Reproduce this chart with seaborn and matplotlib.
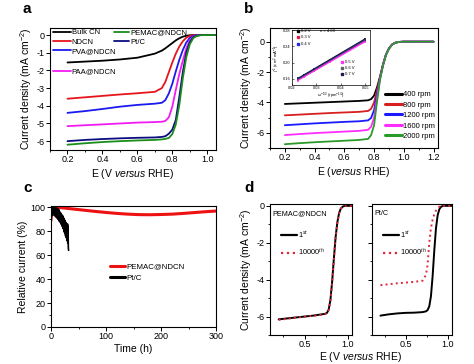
import matplotlib
matplotlib.use("Agg")
import matplotlib.pyplot as plt
from matplotlib.lines import Line2D
from matplotlib.legend import Legend
from matplotlib.ticker import MultipleLocator
import seaborn as sns

# ---------------- data ----------------
# panel a: LSV of catalysts
E_A = [0.20, 0.30, 0.40, 0.50, 0.60, 0.70, 0.74, 0.76, 0.78, 0.80, 0.82, 0.84, 0.86, 0.88, 0.90, 0.92, 0.94, 0.96, 0.98, 1.00, 1.05]
BULK_CN = [-1.55, -1.50, -1.45, -1.38, -1.28, -1.05, -0.88, -0.75, -0.60, -0.45, -0.30, -0.18, -0.09, -0.04, -0.01, 0.00, 0.00, 0.00, 0.00, 0.00, 0.00]
NDCN = [-3.60, -3.52, -3.44, -3.36, -3.29, -3.21, -3.00, -2.65, -2.10, -1.55, -1.05, -0.65, -0.35, -0.15, -0.05, -0.01, 0.00, 0.00, 0.00, 0.00, 0.00]
PVA_NDCN = [-4.40, -4.30, -4.18, -4.05, -3.95, -3.88, -3.83, -3.68, -3.30, -2.75, -2.05, -1.40, -0.85, -0.42, -0.16, -0.05, -0.01, 0.00, 0.00, 0.00, 0.00]
PAA_NDCN = [-5.15, -5.10, -5.05, -5.00, -4.95, -4.92, -4.90, -4.86, -4.65, -4.05, -3.10, -2.20, -1.45, -0.75, -0.30, -0.09, -0.02, 0.00, 0.00, 0.00, 0.00]
PT_C = [-6.00, -5.93, -5.88, -5.84, -5.81, -5.79, -5.76, -5.72, -5.58, -5.35, -4.80, -3.50, -2.10, -1.00, -0.40, -0.12, -0.03, 0.00, 0.00, 0.00, 0.00]
PEMAC_NDCN = [-6.20, -6.12, -6.05, -6.00, -5.96, -5.93, -5.90, -5.87, -5.82, -5.60, -5.05, -3.95, -2.45, -1.25, -0.52, -0.17, -0.05, -0.01, 0.00, 0.00, 0.00]
LABELS_A = ["Bulk CN", "NDCN", "PVA@NDCN", "PAA@NDCN", "Pt/C", "PEMAC@NDCN"]

# panel b: rotating speeds
E_B = [0.20, 0.30, 0.40, 0.50, 0.60, 0.70, 0.76, 0.78, 0.80, 0.82, 0.84, 0.86, 0.88, 0.90, 0.92, 0.94, 0.96, 0.98, 1.00, 1.10, 1.20]
RPM_400 = [-4.10, -4.06, -4.02, -3.98, -3.94, -3.90, -3.86, -3.78, -3.55, -3.00, -2.30, -1.50, -0.85, -0.45, -0.20, -0.08, -0.03, -0.01, 0.00, 0.00, 0.00]
RPM_800 = [-4.85, -4.80, -4.75, -4.70, -4.66, -4.62, -4.56, -4.42, -4.00, -3.20, -2.35, -1.52, -0.85, -0.45, -0.20, -0.08, -0.03, -0.01, 0.00, 0.00, 0.00]
RPM_1200 = [-5.50, -5.44, -5.38, -5.33, -5.28, -5.24, -5.18, -5.02, -4.50, -3.45, -2.40, -1.54, -0.86, -0.45, -0.20, -0.08, -0.03, -0.01, 0.00, 0.00, 0.00]
RPM_1600 = [-6.15, -6.08, -6.02, -5.97, -5.92, -5.87, -5.80, -5.60, -5.00, -3.70, -2.45, -1.56, -0.86, -0.46, -0.20, -0.08, -0.03, -0.01, 0.00, 0.00, 0.00]
RPM_2000 = [-6.75, -6.68, -6.62, -6.57, -6.52, -6.47, -6.40, -6.15, -5.50, -3.95, -2.50, -1.58, -0.87, -0.46, -0.21, -0.08, -0.03, -0.01, 0.00, 0.00, 0.00]
LABELS_B = ["400 rpm", "800 rpm", "1200 rpm", "1600 rpm", "2000 rpm"]

# panel b inset: K-L plots
W_INV = [0.0224, 0.0250, 0.0289, 0.0354, 0.0500]
KL_02 = [0.158, 0.167, 0.181, 0.204, 0.254]
KL_03 = [0.157, 0.166, 0.180, 0.203, 0.253]
KL_04 = [0.159, 0.168, 0.182, 0.205, 0.256]
KL_05 = [0.156, 0.165, 0.179, 0.202, 0.251]
KL_06 = [0.160, 0.169, 0.183, 0.206, 0.257]
KL_07 = [0.161, 0.170, 0.184, 0.207, 0.258]
KL_LABELS = ["0.2 V", "0.3 V", "0.4 V", "0.5 V", "0.6 V", "0.7 V"]
N_TEXT = "n = 4.09"

# panel c: stability
PEMAC_TIME = [0, 1, 2, 3, 5, 10, 20, 40, 60, 80, 100, 120, 140, 160, 180, 200, 220, 240, 260, 280, 300]
PEMAC_CURRENT = [89, 95, 98, 99.5, 100, 100, 99.5, 98.5, 97.5, 96.5, 95.6, 94.8, 94.2, 93.8, 93.7, 93.9, 94.2, 94.8, 95.5, 96.2, 96.8]
PT_TIME = [0, 0.5, 1, 1.5, 2, 2.5, 3, 3.5, 4, 4.5, 5, 5.5, 6, 6.5, 7, 7.5, 8, 8.5, 9, 9.5,
           10, 10.5, 11, 11.5, 12, 12.5, 13, 13.5, 14, 14.5, 15, 15.5, 16, 16.5, 17, 17.5, 18, 18.5, 19, 19.5,
           20, 20.5, 21, 21.5, 22, 22.5, 23, 23.5, 24, 24.5, 25, 25.5, 26, 26.5, 27, 27.5, 28, 28.5, 29, 29.5,
           30, 30.5, 31, 31.5, 32]
PT_CURRENT = [88, 96, 100, 95, 100, 93, 100, 96, 100, 94, 100, 95, 100, 93, 99, 94, 100, 92, 99, 93,
              99, 91, 98, 92, 99, 90, 97, 91, 98, 89, 97, 88, 96, 89, 95, 87, 95, 86, 94, 85,
              93, 84, 93, 83, 92, 82, 91, 80, 90, 79, 89, 78, 88, 76, 87, 75, 86, 74, 85, 72,
              86, 70, 84, 66, 64]
LABELS_C = ["PEMAC@NDCN", "Pt/C"]

# panel d: durability
E_D = [0.20, 0.30, 0.40, 0.50, 0.60, 0.70, 0.74, 0.76, 0.78, 0.80, 0.82, 0.84, 0.86, 0.88, 0.90, 0.92, 0.94, 0.96, 0.98, 1.00, 1.05]
PEMAC_1ST = [-6.15, -6.10, -6.05, -6.00, -5.95, -5.88, -5.85, -5.80, -5.62, -5.10, -4.10, -2.85, -1.70, -0.90, -0.40, -0.15, -0.05, -0.01, 0.00, 0.00, 0.00]
PEMAC_10000TH = [-6.18, -6.12, -6.06, -6.01, -5.96, -5.90, -5.86, -5.82, -5.66, -5.18, -4.18, -2.92, -1.75, -0.93, -0.42, -0.16, -0.05, -0.01, 0.00, 0.00, 0.00]
PTC_1ST = [-5.95, -5.88, -5.83, -5.80, -5.79, -5.76, -5.72, -5.65, -5.45, -4.90, -3.80, -2.40, -1.20, -0.50, -0.18, -0.05, -0.01, 0.00, 0.00, 0.00, 0.00]
PTC_10000TH = [-4.30, -4.25, -4.20, -4.16, -4.12, -4.06, -3.75, -3.20, -2.00, -1.20, -0.75, -0.45, -0.25, -0.12, -0.05, -0.01, 0.00, 0.00, 0.00, 0.00, 0.00]
CYCLE_LABELS = ["1$^{st}$", "10000$^{th}$"]

# ---------------- style ----------------
sns.set_style("ticks", {"axes.edgecolor": "black", "xtick.color": "black", "ytick.color": "black",
                        "text.color": "black", "axes.labelcolor": "black"})
plt.rcParams["font.family"] = ["Liberation Sans", "DejaVu Sans"]
plt.rcParams["mathtext.fontset"] = "custom"
plt.rcParams["mathtext.rm"] = "Liberation Sans"
plt.rcParams["mathtext.it"] = "Liberation Sans:italic"
plt.rcParams["mathtext.bf"] = "Liberation Sans:bold"
plt.rcParams["axes.unicode_minus"] = False

W, H = 474, 364
fig = plt.figure(figsize=(W / 100, H / 100), dpi=100)


def ax_px(l, t, r, b):
    return fig.add_axes([l / W, 1 - b / H, (r - l) / W, (b - t) / H])


def style(ax, fs=6.5):
    for s in ax.spines.values():
        s.set_linewidth(0.8)
        s.set_color("black")
    ax.tick_params(which="major", direction="out", length=2.6, width=0.7, labelsize=fs, pad=1.2)
    ax.tick_params(which="minor", direction="out", length=1.6, width=0.6)


def leg(ax, handles, labels, x, y, fs=5.5, spacing=0.25, hl=2.3, pad=0.15, hh=0.7):
    lg = Legend(ax, handles, labels, loc="upper left", bbox_to_anchor=(x / W, 1 - y / H),
                bbox_transform=fig.transFigure, frameon=False, borderpad=0, borderaxespad=0,
                handletextpad=pad, labelspacing=spacing, handlelength=hl, handleheight=hh,
                fontsize=fs)
    ax.add_artist(lg)
    return lg


XLAB = "E (V $\\mathit{versus}$ RHE)"
YLAB = "Current density (mA cm$^{-2}$)"

# ---------------- panel a ----------------
axa = ax_px(50, 28, 216, 150)
style(axa)
cols_a = ["black", "#e8141c", "#1a1aee", "#f21cf2", "#0c0c80", "#1c8c1c"]
series_a = [BULK_CN, NDCN, PVA_NDCN, PAA_NDCN, PT_C, PEMAC_NDCN]
hs_a = []
for ys, c, lab in zip(series_a, cols_a, LABELS_A):
    sns.lineplot(x=E_A, y=ys, ax=axa, color=c, lw=1.3, legend=False, estimator=None)
    hs_a.append(Line2D([], [], color=c, lw=1.3))
axa.set_xlim(0.1, 1.05)
axa.set_ylim(-6.5, 0.4)
axa.xaxis.set_major_locator(MultipleLocator(0.2))
axa.xaxis.set_minor_locator(MultipleLocator(0.1))
axa.yaxis.set_major_locator(MultipleLocator(1))
axa.set_xlabel(XLAB, fontsize=7.5, labelpad=2)
axa.set_ylabel(YLAB, fontsize=7.5, labelpad=2)
leg(axa, [hs_a[0], hs_a[1], hs_a[2]], LABELS_A[:3], 53, 29)
leg(axa, [hs_a[5], hs_a[4]], [LABELS_A[5], LABELS_A[4]], 114, 29, hl=2.0)
leg(axa, [hs_a[3]], [LABELS_A[3]], 53, 68)

# ---------------- panel b ----------------
axb = ax_px(270, 28, 438, 148)
style(axb)
cols_b = ["black", "#d81e1e", "#1a1aff", "#ff2dff", "#2a9a2a"]
series_b = [RPM_400, RPM_800, RPM_1200, RPM_1600, RPM_2000]
hs_b = []
for ys, c in zip(series_b, cols_b):
    sns.lineplot(x=E_B, y=ys, ax=axb, color=c, lw=1.3, legend=False, estimator=None)
    hs_b.append(Line2D([], [], color=c, lw=2.2))
axb.set_xlim(0.1, 1.23)
axb.set_ylim(-7, 0.9)
axb.xaxis.set_major_locator(MultipleLocator(0.2))
axb.xaxis.set_minor_locator(MultipleLocator(0.1))
axb.yaxis.set_major_locator(MultipleLocator(2))
axb.yaxis.set_minor_locator(MultipleLocator(1))
axb.set_xlabel("E ($\\mathit{versus}$ RHE)", fontsize=7.5, labelpad=2)
axb.set_ylabel(YLAB, fontsize=7.5, labelpad=2)
leg(axb, hs_b, LABELS_B, 385, 91, spacing=0.4, hl=2.2, pad=0.1)

# inset
axi = ax_px(292, 30, 370, 85)
for s in axi.spines.values():
    s.set_linewidth(0.5)
axi.tick_params(which="major", direction="in", length=1.2, width=0.4, labelsize=2.8, pad=1)
kl_series = [KL_02, KL_03, KL_04, KL_05, KL_06, KL_07]
kl_cols = ["black", "#e0204a", "#2a2ae0", "#ff33ff", "#55665a", "#1a1a50"]
hs_i = []
for ys, c in zip(kl_series, kl_cols):
    sns.regplot(x=W_INV, y=ys, ax=axi, ci=None, marker="s", color=c,
                scatter_kws={"s": 2.5, "linewidths": 0}, line_kws={"lw": 0.9})
    hs_i.append(Line2D([], [], color=c, marker="s", ms=1.8, lw=0))
axi.set_xlim(0.02, 0.052)
axi.set_ylim(0.145, 0.28)
axi.set_xticks([0.02, 0.03, 0.04, 0.05])
axi.set_yticks([0.16, 0.20, 0.24, 0.28])
axi.set_xlabel("$\\omega^{-1/2}$ (rpm$^{-1/2}$)", fontsize=3, labelpad=0.5)
axi.set_ylabel("j$^{-1}$ (cm$^{2}$ mA$^{-1}$)", fontsize=3, labelpad=0.5)
for hs, labs, x, y, sp in [(hs_i[:3], KL_LABELS[:3], 297, 29, 0.6), (hs_i[3:], KL_LABELS[3:], 341, 60, 0.5)]:
    li = Legend(axi, hs, labs, loc="upper left", bbox_to_anchor=(x / W, 1 - y / H),
                bbox_transform=fig.transFigure, frameon=False, borderpad=0, borderaxespad=0,
                handletextpad=0.3, labelspacing=sp, handlelength=0.6, fontsize=3)
    axi.add_artist(li)
fig.text(320 / W, 1 - 31 / H, N_TEXT, fontsize=3, va="center", ha="left")

# ---------------- panel c ----------------
axc = ax_px(51, 206, 216, 327)
style(axc)
sns.lineplot(x=PEMAC_TIME, y=PEMAC_CURRENT, ax=axc, color="#ee1111", lw=2.2, legend=False, estimator=None)
sns.lineplot(x=PT_TIME, y=PT_CURRENT, ax=axc, color="black", lw=1.2, legend=False, estimator=None)
axc.set_xlim(0, 300)
axc.set_ylim(0, 101)
axc.xaxis.set_major_locator(MultipleLocator(100))
axc.xaxis.set_minor_locator(MultipleLocator(50))
axc.yaxis.set_major_locator(MultipleLocator(20))
axc.yaxis.set_minor_locator(MultipleLocator(10))
axc.set_xlabel("Time (h)", fontsize=7.5, labelpad=2)
axc.set_ylabel("Relative current (%)", fontsize=7.5, labelpad=2)
leg(axc, [Line2D([], [], color="#ee1111", lw=2.2), Line2D([], [], color="black", lw=2.2)],
    LABELS_C, 110, 263, fs=5.7, spacing=0.45, hl=1.9, pad=0.15)

# ---------------- panel d ----------------
axd1 = ax_px(270, 204, 352, 335)
axd2 = ax_px(372, 204, 452, 335)
red_d = "#e0283a"
for ax, s1, s2, name, lx in [(axd1, PEMAC_1ST, PEMAC_10000TH, "PEMAC@NDCN", 281),
                             (axd2, PTC_1ST, PTC_10000TH, "Pt/C", 383)]:
    style(ax)
    sns.lineplot(x=E_D, y=s1, ax=ax, color="black", lw=1.4, legend=False, estimator=None)
    sns.lineplot(x=E_D, y=s2, ax=ax, color=red_d, lw=1.4, ls=":", legend=False, estimator=None)
    ax.set_xlim(0.1, 1.05)
    ax.set_ylim(-7, 0.1)
    ax.xaxis.set_major_locator(MultipleLocator(0.5))
    ax.xaxis.set_minor_locator(MultipleLocator(0.25))
    ax.yaxis.set_major_locator(MultipleLocator(2))
    ax.yaxis.set_minor_locator(MultipleLocator(1))
    ax.set_xlabel("")
    ax.text(0.03, 0.925, name, transform=ax.transAxes, fontsize=5.2, ha="left", va="center")
    leg(ax, [Line2D([], [], color="black", lw=1.6), Line2D([], [], color=red_d, lw=1.6, ls=":")],
        CYCLE_LABELS, lx, 229, fs=5.3, spacing=1.0, hl=2.2, pad=0.1)
axd2.tick_params(labelleft=False)
axd1.set_ylabel(YLAB, fontsize=7.5, labelpad=2)
fig.text(361 / W, 1 - 357 / H, XLAB, fontsize=7.5, ha="center", va="center")

# ---------------- panel labels ----------------
for lab, x, y in [("a", 27, 9), ("b", 249, 9), ("c", 28, 188), ("d", 249, 188)]:
    fig.text(x / W, 1 - y / H, lab, fontsize=11, fontweight="bold", ha="center", va="center")

fig.savefig("out.png", dpi=100)
